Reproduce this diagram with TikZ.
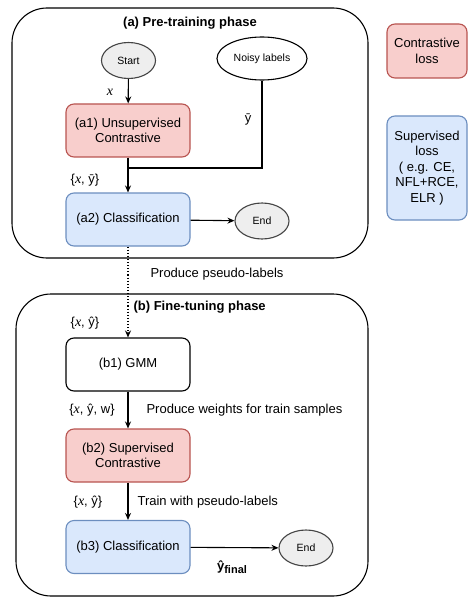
\documentclass[tikz,border=0pt]{standalone}
\usepackage{fontspec}
\setmainfont{Liberation Sans}
\newfontfamily\varfont{Liberation Serif}
\usepackage{tikz}
\usetikzlibrary{arrows.meta,positioning,shapes.geometric}
\definecolor{ctrfill}{HTML}{F8CECC}
\definecolor{ctrline}{HTML}{B85450}
\definecolor{supfill}{HTML}{DAE8FC}
\definecolor{supline}{HTML}{6C8EBF}
\definecolor{endfill}{HTML}{EEEEEE}
\definecolor{endline}{HTML}{444444}
\newcommand{\vx}{{\varfont\itshape\fontsize{14}{15.5}\selectfont x}}

\begin{document}
\begin{tikzpicture}[x=1pt,y=-1pt,font=\fontsize{13}{15.5}\selectfont,line width=1.1pt,
  phase/.style={draw,rounded corners=35pt,inner sep=0pt},
  blk/.style={draw,rounded corners=8pt,minimum width=124pt,minimum height=53pt,align=center,inner sep=2pt},
  ctr/.style={blk,fill=ctrfill,draw=ctrline},
  sup/.style={blk,fill=supfill,draw=supline},
  oval/.style={draw,ellipse,inner sep=0pt,font=\fontsize{10.5}{12}\selectfont},
  term/.style={oval,fill=endfill,draw=endline,minimum width=54pt,minimum height=36pt},
  lbl/.style={inner sep=0pt},
  flow/.style={-{Stealth[length=7pt,width=6pt]}}]
  \useasboundingbox (0,0) rectangle (474,604);

  \node[phase,minimum width=356pt,minimum height=250pt] (pa) at (190,133) {};
  \node[phase,minimum width=352pt,minimum height=302pt] (pb) at (192,445) {};
  \node[lbl,font=\fontsize{13}{15.5}\selectfont\bfseries] (ta) at (190,23) {(a) Pre-training phase};
  \node[lbl,font=\fontsize{13}{15.5}\selectfont\bfseries,anchor=west] (tb) at (133,307) {(b) Fine-tuning phase};

  \node[term] (start) at (128.5,60.5) {Start};
  \node[oval,minimum width=90pt,minimum height=43pt] (noisy) at (262,58.5) {Noisy labels};
  \node[ctr] (a1) at (128,130.5) {(a1) Unsupervised\\Contrastive};
  \node[sup] (a2) at (128,219.5) {(a2) Classification};
  \node[term] (enda) at (262,221) {End};
  \coordinate (join) at (128,168);

  \node[blk] (b1) at (128,364.5) {(b1) GMM};
  \node[ctr] (b2) at (128,455.5) {(b2) Supervised\\Contrastive};
  \node[sup] (b3) at (128,547) {(b3) Classification};
  \node[term] (endb) at (306,548) {End};

  \node[ctr,minimum width=80pt,minimum height=54pt] (lc) at (427,51) {Contrastive\\loss};
  \node[sup,minimum width=80pt,minimum height=104pt] (ls) at (427,168) {Supervised\\loss\\( e.g. CE,\\NFL+RCE,\\ELR )};

  \draw[flow] (start) -- (a1);
  \draw (a1) -- (join);
  \draw (noisy) |- (join);
  \draw[flow] (join) -- (a2);
  \draw[flow] (a2) -- (enda);
  \draw[flow,dotted] (a2) -- (b1);
  \draw[flow] (b1) -- (b2);
  \draw[flow] (b2) -- (b3);
  \draw[flow] (b3) -- (endb);

  \node[lbl] (lx) at (110,92) {\vx};
  \node[lbl] (ly) at (248,120) {\={y}};
  \node[lbl] (lxy) at (85,180) {\{\vx, \={y}\}};
  \node[lbl] (lpp) at (217,274) {Produce pseudo-labels};
  \node[lbl] (lxh) at (85,323) {\{\vx, \^{y}\}};
  \node[lbl] (lxw) at (92,410) {\{\vx, \^{y}, w\}};
  \node[lbl,anchor=west] (lpw) at (146,410) {Produce weights for train samples};
  \node[lbl] (lxh2) at (88,502) {\{\vx, \^{y}\}};
  \node[lbl,anchor=west] (ltp) at (137,502) {Train with pseudo-labels};
  \node[lbl,font=\fontsize{13}{15.5}\selectfont\bfseries] (lyf) at (232,567) {\^{y}\raisebox{-3.5pt}{\fontsize{11}{12}\selectfont final}};
\end{tikzpicture}
\end{document}
